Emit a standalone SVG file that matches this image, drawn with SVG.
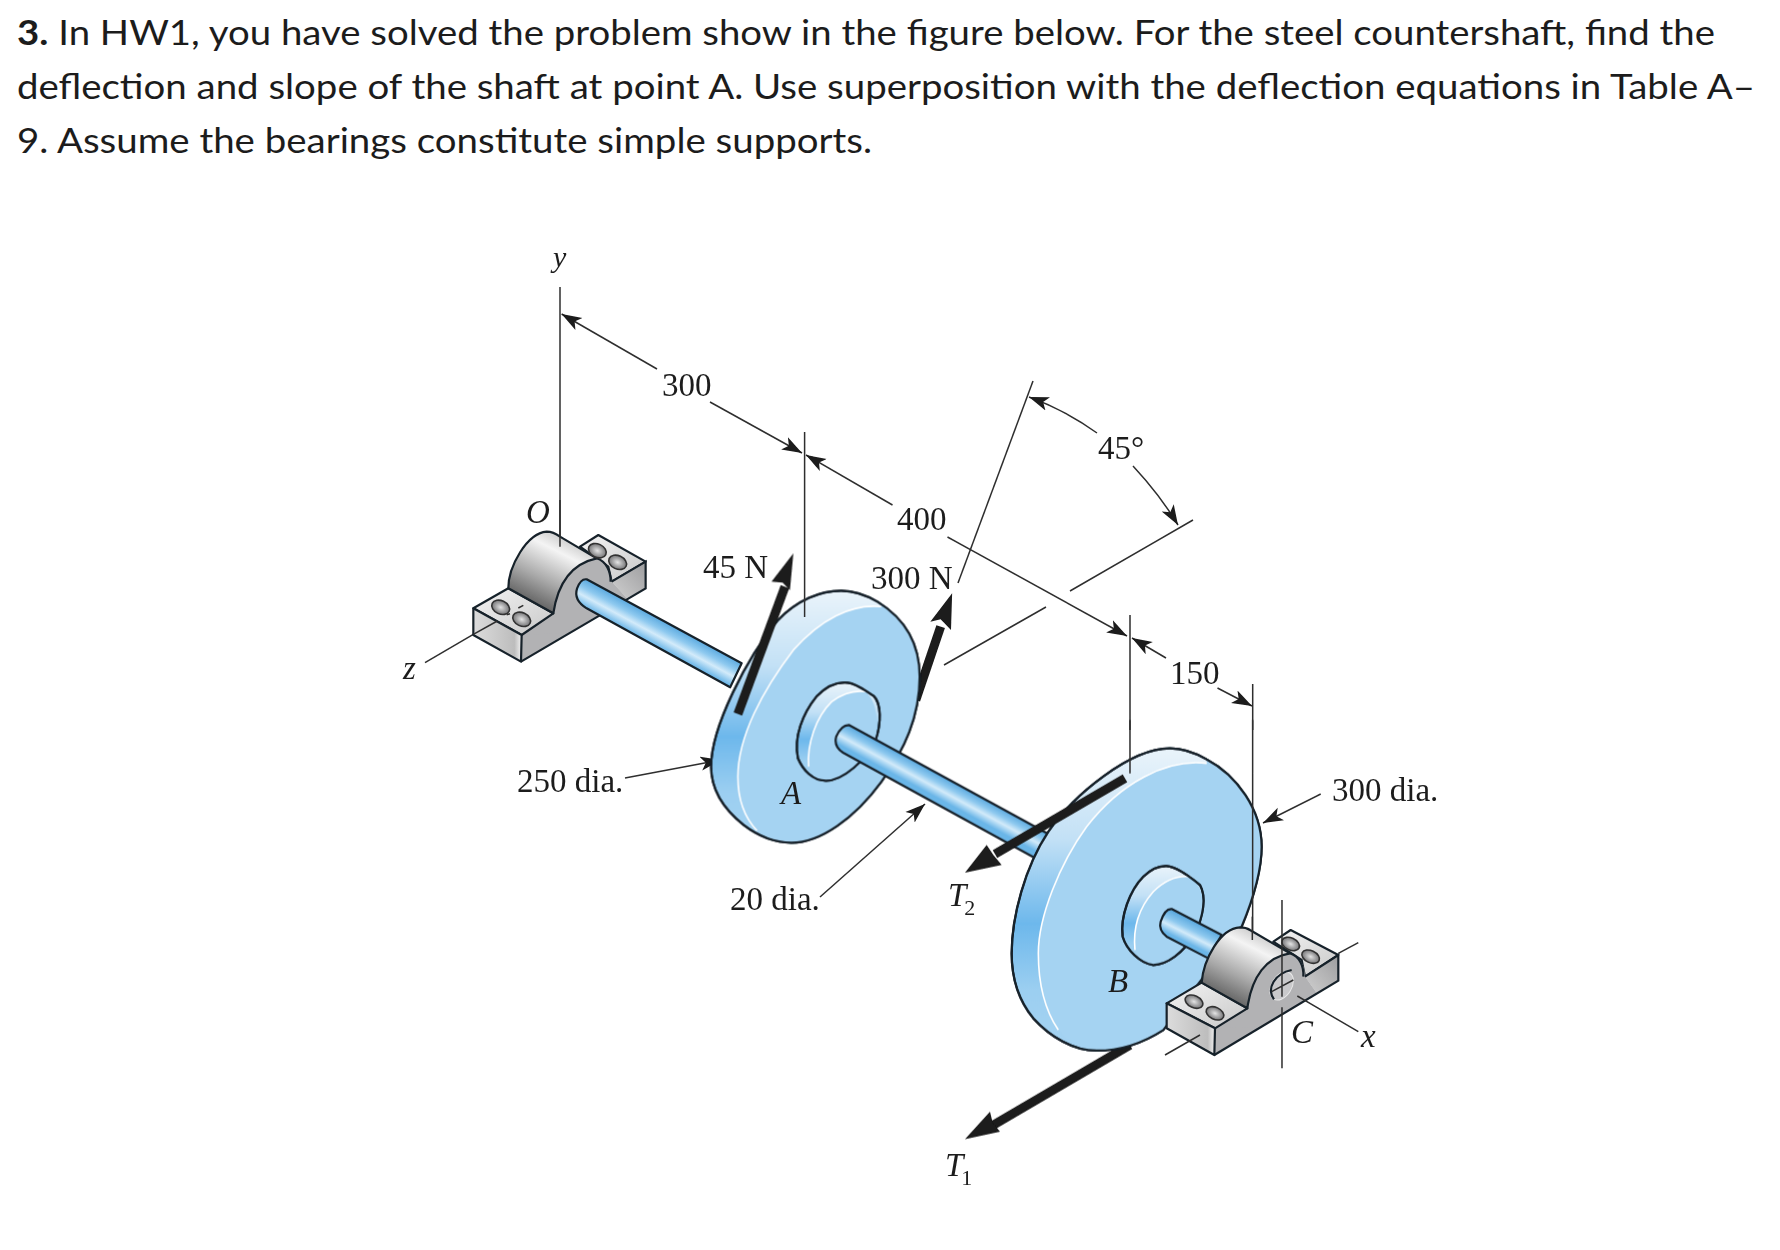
<svg xmlns="http://www.w3.org/2000/svg" width="1780" height="1250" viewBox="0 0 1780 1250">
<style>
text{fill:#1c1c1c}
.q{font:35px Lato,"Liberation Sans",sans-serif}
.l{font:33px "Liberation Serif",serif}
.i{font:italic 33px "Liberation Serif",serif}
.s{font:22px "Liberation Serif",serif}
.d{fill:none;stroke:#2e2e2e;stroke-width:1.5}
.e{stroke:#17212a;stroke-width:2.2;stroke-linejoin:round;vector-effect:non-scaling-stroke}
.n{fill:none;stroke:#17212a;stroke-width:2.2;vector-effect:non-scaling-stroke}
.t{fill:none;stroke:#2e2e2e;stroke-width:1.5;vector-effect:non-scaling-stroke}
.w{fill:none;stroke:#fff;stroke-width:1.6;vector-effect:non-scaling-stroke}
.f{fill:#a5d3f2}
.b{fill:url(#bolt);stroke:#333;stroke-width:1.6;vector-effect:non-scaling-stroke}
.k{fill:#1a1a1a}
.fo{fill:none;stroke:#1a1a1a;stroke-width:9;vector-effect:non-scaling-stroke}
</style>
<defs>
<marker id="a" markerWidth="24" markerHeight="16" refX="20" refY="8" orient="auto" markerUnits="userSpaceOnUse"><path d="M20 8L0 1L5 8L0 15Z" fill="#1a1a1a"/></marker>
<filter id="soft" x="0" y="0" width="1" height="1"><feGaussianBlur stdDeviation=".5"/></filter>
<linearGradient id="s1" gradientUnits="userSpaceOnUse" x1="740" y1="482" x2="701" y2="545"><stop offset="0" stop-color="#5aa9df"/><stop offset=".35" stop-color="#8ec9ef"/><stop offset=".62" stop-color="#d3ebfa"/><stop offset="1" stop-color="#6bb6e8"/></linearGradient>
<linearGradient id="s2" gradientUnits="userSpaceOnUse" x1="1480" y1="955" x2="1447" y2="1008"><stop offset="0" stop-color="#5aa9df"/><stop offset=".35" stop-color="#8ec9ef"/><stop offset=".62" stop-color="#d3ebfa"/><stop offset="1" stop-color="#6bb6e8"/></linearGradient>
<linearGradient id="s3" gradientUnits="userSpaceOnUse" x1="735" y1="605" x2="705" y2="665"><stop offset="0" stop-color="#5aa9df"/><stop offset=".4" stop-color="#8ec9ef"/><stop offset=".65" stop-color="#d3ebfa"/><stop offset="1" stop-color="#6bb6e8"/></linearGradient>
<linearGradient id="rim" x1="0" y1="0" x2="0" y2="1"><stop offset="0" stop-color="#eaf4fb"/><stop offset=".3" stop-color="#c3e1f6"/><stop offset=".58" stop-color="#6db8ec"/><stop offset=".8" stop-color="#9ccff1"/><stop offset="1" stop-color="#a5d3f2"/></linearGradient>
<linearGradient id="dome" x1="0.75" y1="0.08" x2="0.3" y2="0.9"><stop offset="0" stop-color="#c4c4c4"/><stop offset=".25" stop-color="#f4f4f4"/><stop offset=".66" stop-color="#a8a8a8"/><stop offset="1" stop-color="#626262"/></linearGradient>
<linearGradient id="top" x1="0" y1="0" x2="1" y2="1"><stop offset="0" stop-color="#f4f4f4"/><stop offset="1" stop-color="#c8c8c8"/></linearGradient>
<linearGradient id="left" x1="0" y1="0" x2="1" y2="0"><stop offset="0" stop-color="#dcdcdc"/><stop offset=".85" stop-color="#bdbdbd"/><stop offset="1" stop-color="#f2f2f2"/></linearGradient>
<linearGradient id="long" x1="0" y1="1" x2="1" y2="0"><stop offset="0" stop-color="#d0d0d0"/><stop offset="1" stop-color="#9d9d9f"/></linearGradient>
<radialGradient id="bolt"><stop offset="0" stop-color="#e4e4e4"/><stop offset="1" stop-color="#757577"/></radialGradient>
</defs>
<rect width="1780" height="1250" fill="#fff"/>

<g id="question">
<text class="q" x="17" y="45" textLength="1698" lengthAdjust="spacingAndGlyphs"><tspan font-weight="700">3.</tspan> In HW1, you have solved the problem show in the figure below. For the steel countershaft, find the</text>
<text class="q" x="17" y="99" textLength="1738" lengthAdjust="spacingAndGlyphs">deflection and slope of the shaft at point A. Use superposition with the deflection equations in Table A–</text>
<text class="q" x="17" y="153" textLength="855" lengthAdjust="spacingAndGlyphs">9. Assume the bearings constitute simple supports.</text>
</g>

<g id="figure" filter="url(#soft)">
<g id="connectors-back">
<path class="d" d="M560 287V547"/>
<path class="d" d="M657 369L561.600 314" marker-end="url(#a)"/>
<path class="d" d="M710 402L802 453" marker-end="url(#a)"/>
<path class="d" d="M892.500 505L806 455" marker-end="url(#a)"/>
<path class="d" d="M947.500 537L1127 636" marker-end="url(#a)"/>
<path class="d" d="M1166 658L1132 638" marker-end="url(#a)"/>
<path class="d" d="M1217.500 688L1252 706" marker-end="url(#a)"/>
<path class="d" d="M1130 615V730M1252.700 684V730"/>
<path class="d" d="M1033 381L958 583"/>
<path class="d" d="M1193 520L1070 591M1046 607L944 665"/>
<path class="d" d="M1097 433Q1065 410 1029 397" marker-end="url(#a)"/>
<path class="d" d="M1133 466Q1160 495 1178 525" marker-end="url(#a)"/>
<path class="d" d="M625 778L720.600 760" marker-end="url(#a)"/>
<path class="d" d="M820 897L925 804" marker-end="url(#a)"/>
<path class="d" d="M1320.700 794L1263 823" marker-end="url(#a)"/>
</g>

<g id="bearing-O" transform="translate(460 520) scale(.3333)">
<path class="t" d="M-105 428L40 343"/>
<path class="e" fill="url(#top)" d="M360 80L415 45L557 125L455 185L445 140Z"/>
<path fill="url(#long)" d="M455 185L557 125L557 205L500 235Z"/>
<path fill="#b2b2b4" d="M185 345L183 425L415 285L500 235L455 185L300 250Z"/>
<path d="M280 280C295 180 340 130 410 115C440 125 452 155 455 185L500 235L415 285L300 340L185 345Z" fill="#b2b2b4"/>
<path class="n" d="M183 425L557 205V125L455 185"/>
<path class="e" fill="url(#top)" d="M40 265L145 205L280 280L185 345Z"/>
<path class="e" fill="url(#left)" d="M40 265L40 345L183 425L185 345Z"/>
<path class="t" d="M40 343L112 303"/>
<path class="e" fill="url(#dome)" d="M145 205C145 140 200 40 260 35Q280 35 300 50L410 115C340 130 295 180 280 280Z"/>
<path class="n" d="M410 115C440 125 452 155 452 185"/>
<ellipse class="b" cx="122" cy="262" rx="28" ry="20" transform="rotate(25 122 262)"/>
<ellipse class="b" cx="185" cy="298" rx="28" ry="20" transform="rotate(25 185 298)"/>
<ellipse class="b" cx="412" cy="92" rx="28" ry="20" transform="rotate(25 412 92)"/>
<ellipse class="b" cx="473" cy="127" rx="28" ry="20" transform="rotate(25 473 127)"/>
<path class="t" d="M175 264L190 256M140 284L150 281M300 -60V80"/>
</g>

<g id="arrow-300N" transform="translate(380 460) scale(.3827 .3333)">
<path class="fo" d="M1400 720L1465 500"/>
<path class="k" d="M1495 400L1438 485L1465 478L1492 510Z"/>
</g>

<g id="shaft-OA" transform="translate(380 460) scale(.3827 .3333)">
<path class="e" fill="url(#s1)" d="M540 358L945 610L915 682L540 445Q505 420 515 385Q525 355 540 358Z"/>
</g>

<g id="pulley-A" transform="translate(380 460) scale(.3827 .3333)">
<path class="e" fill="url(#rim)" d="M1205 392C1240 392 1270 405 1300 425C1370 475 1410 550 1410 650C1410 770 1370 870 1310 965C1240 1075 1150 1148 1075 1148C1030 1148 990 1130 950 1095C895 1045 865 990 865 920C865 800 960 590 1040 480C1090 420 1150 392 1205 392Z"/>
<path class="f" d="M1300 425C1370 475 1410 550 1410 650C1410 770 1370 870 1310 965C1240 1075 1150 1148 1075 1148C1040 1148 1010 1135 985 1112C950 1070 935 1010 935 950C935 830 1000 690 1080 570C1150 480 1230 430 1310 440Z"/>
<path class="w" d="M1310 440C1230 430 1150 480 1080 570C1000 690 935 830 935 950C935 1010 950 1070 985 1112"/>
<path class="n" d="M1205 392C1240 392 1270 405 1300 425C1370 475 1410 550 1410 650C1410 770 1370 870 1310 965C1240 1075 1150 1148 1075 1148C1030 1148 990 1130 950 1095C895 1045 865 990 865 920C865 800 960 590 1040 480C1090 420 1150 392 1205 392Z"/>
<path class="e" fill="url(#rim)" d="M1222 668C1245 670 1265 690 1290 708C1310 730 1310 790 1295 840C1270 900 1210 962 1165 962C1130 962 1105 930 1092 895C1080 830 1105 760 1140 710C1165 680 1195 665 1222 668Z"/>
<path class="f" d="M1268 695C1290 715 1305 760 1295 840C1270 900 1210 962 1165 962C1140 962 1125 945 1120 920C1115 850 1140 770 1180 725C1210 700 1240 690 1268 695Z"/>
<path class="w" d="M1268 695C1240 690 1210 700 1180 725C1140 770 1115 850 1120 920"/>
<path class="n" d="M1222 668C1245 670 1265 690 1290 708C1310 730 1310 790 1295 840C1270 900 1210 962 1165 962C1130 962 1105 930 1092 895C1080 830 1105 760 1140 710C1165 680 1195 665 1222 668Z"/>
<path class="fo" d="M935 762L1058 380"/>
<path class="k" d="M1080 280L1023 365L1052 368L1071 390Z"/>
</g>

<g id="axis-A"><path class="d" d="M804.600 432V617"/></g>

<g id="shaft-AB" transform="translate(380 460) scale(.3827 .3333)">
<path class="e" fill="url(#s2)" d="M1225 795L1751 1125L1711 1194L1210 878Q1185 860 1192 830Q1205 795 1225 795Z"/>
</g>

<g id="pulley-B" transform="translate(950 720) scale(.3333)">
<path class="fo" d="M540 975L130 1215"/>
<path class="k" d="M45 1258L120 1175L128 1208L150 1235Z"/>
<path class="e" fill="url(#rim)" d="M660 85C700 85 735 98 770 118C860 165 935 270 935 380C935 470 900 560 875 620L640 930C570 975 500 992 440 992C370 992 300 950 250 895C205 840 185 770 185 700C185 590 225 440 295 335C370 225 540 85 660 85Z"/>
<path class="f" d="M770 118C860 165 935 270 935 380C935 470 900 560 875 620L640 930C570 975 500 992 440 992C390 992 350 965 325 930C285 870 265 790 265 700C265 590 330 430 410 320C510 190 650 115 770 130Z"/>
<path class="w" d="M770 130C650 115 510 190 410 320C330 430 265 590 265 700C265 790 285 870 325 930"/>
<path class="n" d="M660 85C700 85 735 98 770 118C860 165 935 270 935 380C935 470 900 560 875 620L640 930C570 975 500 992 440 992C370 992 300 950 250 895C205 840 185 770 185 700C185 590 225 440 295 335C370 225 540 85 660 85Z"/>
<path class="e" fill="url(#rim)" d="M650 438C680 440 720 470 750 495C770 530 760 590 735 640C700 700 650 735 610 735C570 730 530 690 518 650C510 590 540 510 580 470C600 450 625 437 650 438Z"/>
<path class="f" d="M722 470C750 495 768 530 755 590C735 650 670 735 610 735C585 733 565 720 555 690C548 620 570 560 610 515C640 485 680 465 722 470Z"/>
<path class="w" d="M722 470C680 465 640 485 610 515C570 560 548 620 555 690"/>
<path class="n" d="M650 438C680 440 720 470 750 495C770 530 760 590 735 640C700 700 650 735 610 735C570 730 530 690 518 650C510 590 540 510 580 470C600 450 625 437 650 438Z"/>
<path class="e" fill="url(#s3)" d="M665 567L815 645L775 715L650 650Q625 630 632 605Q645 565 665 567Z"/>
<path class="t" d="M540 0V160M908 0V660"/>
<path class="fo" d="M525 175L135 402"/>
<path class="k" d="M45 458L110 375L130 405L155 435Z"/>
</g>

<g id="bearing-C" transform="translate(1160 920) scale(.3333)">
<path class="t" d="M535 100L595 68"/>
<path class="e" fill="url(#top)" d="M340 65L392 30L535 105L435 170L425 120Z"/>
<path fill="url(#long)" d="M435 170L535 105L535 182L470 220Z"/>
<path fill="#b2b2b4" d="M165 325L163 405L535 182L470 220L435 170L262 265Z"/>
<path d="M262 265C275 170 320 110 390 100C420 105 435 140 435 170L470 220L300 320L165 325Z" fill="#b2b2b4"/>
<path class="n" d="M163 405L535 182V105L435 170"/>
<path class="e" fill="url(#top)" d="M20 250L125 188L262 265L165 325Z"/>
<path class="e" fill="url(#left)" d="M20 250L20 325L163 405L165 325Z"/>
<path class="t" d="M15 405L120 345"/>
<path class="e" fill="url(#dome)" d="M125 188C130 120 180 25 240 22Q258 22 270 30L390 100C320 110 275 170 262 265Z"/>
<path class="n" d="M390 100C420 110 432 140 430 170"/>
<ellipse class="b" cx="102" cy="245" rx="28" ry="18" transform="rotate(25 102 245)"/>
<ellipse class="b" cx="165" cy="280" rx="28" ry="18" transform="rotate(25 165 280)"/>
<ellipse class="b" cx="392" cy="72" rx="28" ry="18" transform="rotate(25 392 72)"/>
<ellipse class="b" cx="452" cy="110" rx="28" ry="18" transform="rotate(25 452 110)"/>
<ellipse cx="365" cy="198" rx="30" ry="46" transform="rotate(32 365 198)" fill="#c9c9cb" stroke="#e8e8e8" stroke-width="3"/>
<path class="n" d="M342 238C318 205 345 160 395 150"/>
<path class="t" d="M366 -60V230M366 262V445M335 215L400 180M412 228L595 335"/>
<path class="t" d="M277 -10V60"/>
</g>

<g id="labels">
<text class="i" x="553" y="267" style="font-size:30px">y</text>
<text class="l" x="662" y="396">300</text>
<text class="l" x="897" y="530">400</text>
<text class="l" x="1098" y="459">45°</text>
<text class="l" x="703" y="578">45 N</text>
<text class="l" x="871" y="589">300 N</text>
<text class="l" x="1170" y="684">150</text>
<text class="i" x="526" y="523">O</text>
<text class="i" x="403" y="679">z</text>
<text class="l" x="517" y="792">250 dia.</text>
<text class="i" x="781" y="804">A</text>
<text class="l" x="730" y="910">20 dia.</text>
<text class="i" x="948" y="906">T<tspan class="s" style="font-style:normal" dx="-2" dy="9">2</tspan></text>
<text class="l" x="1332" y="801">300 dia.</text>
<text class="i" x="1108" y="992">B</text>
<text class="i" x="1291" y="1043">C</text>
<text class="i" x="1361" y="1047">x</text>
<text class="i" x="945" y="1176">T<tspan class="s" style="font-style:normal" dx="-2" dy="9">1</tspan></text>
</g>
</g>
</svg>
